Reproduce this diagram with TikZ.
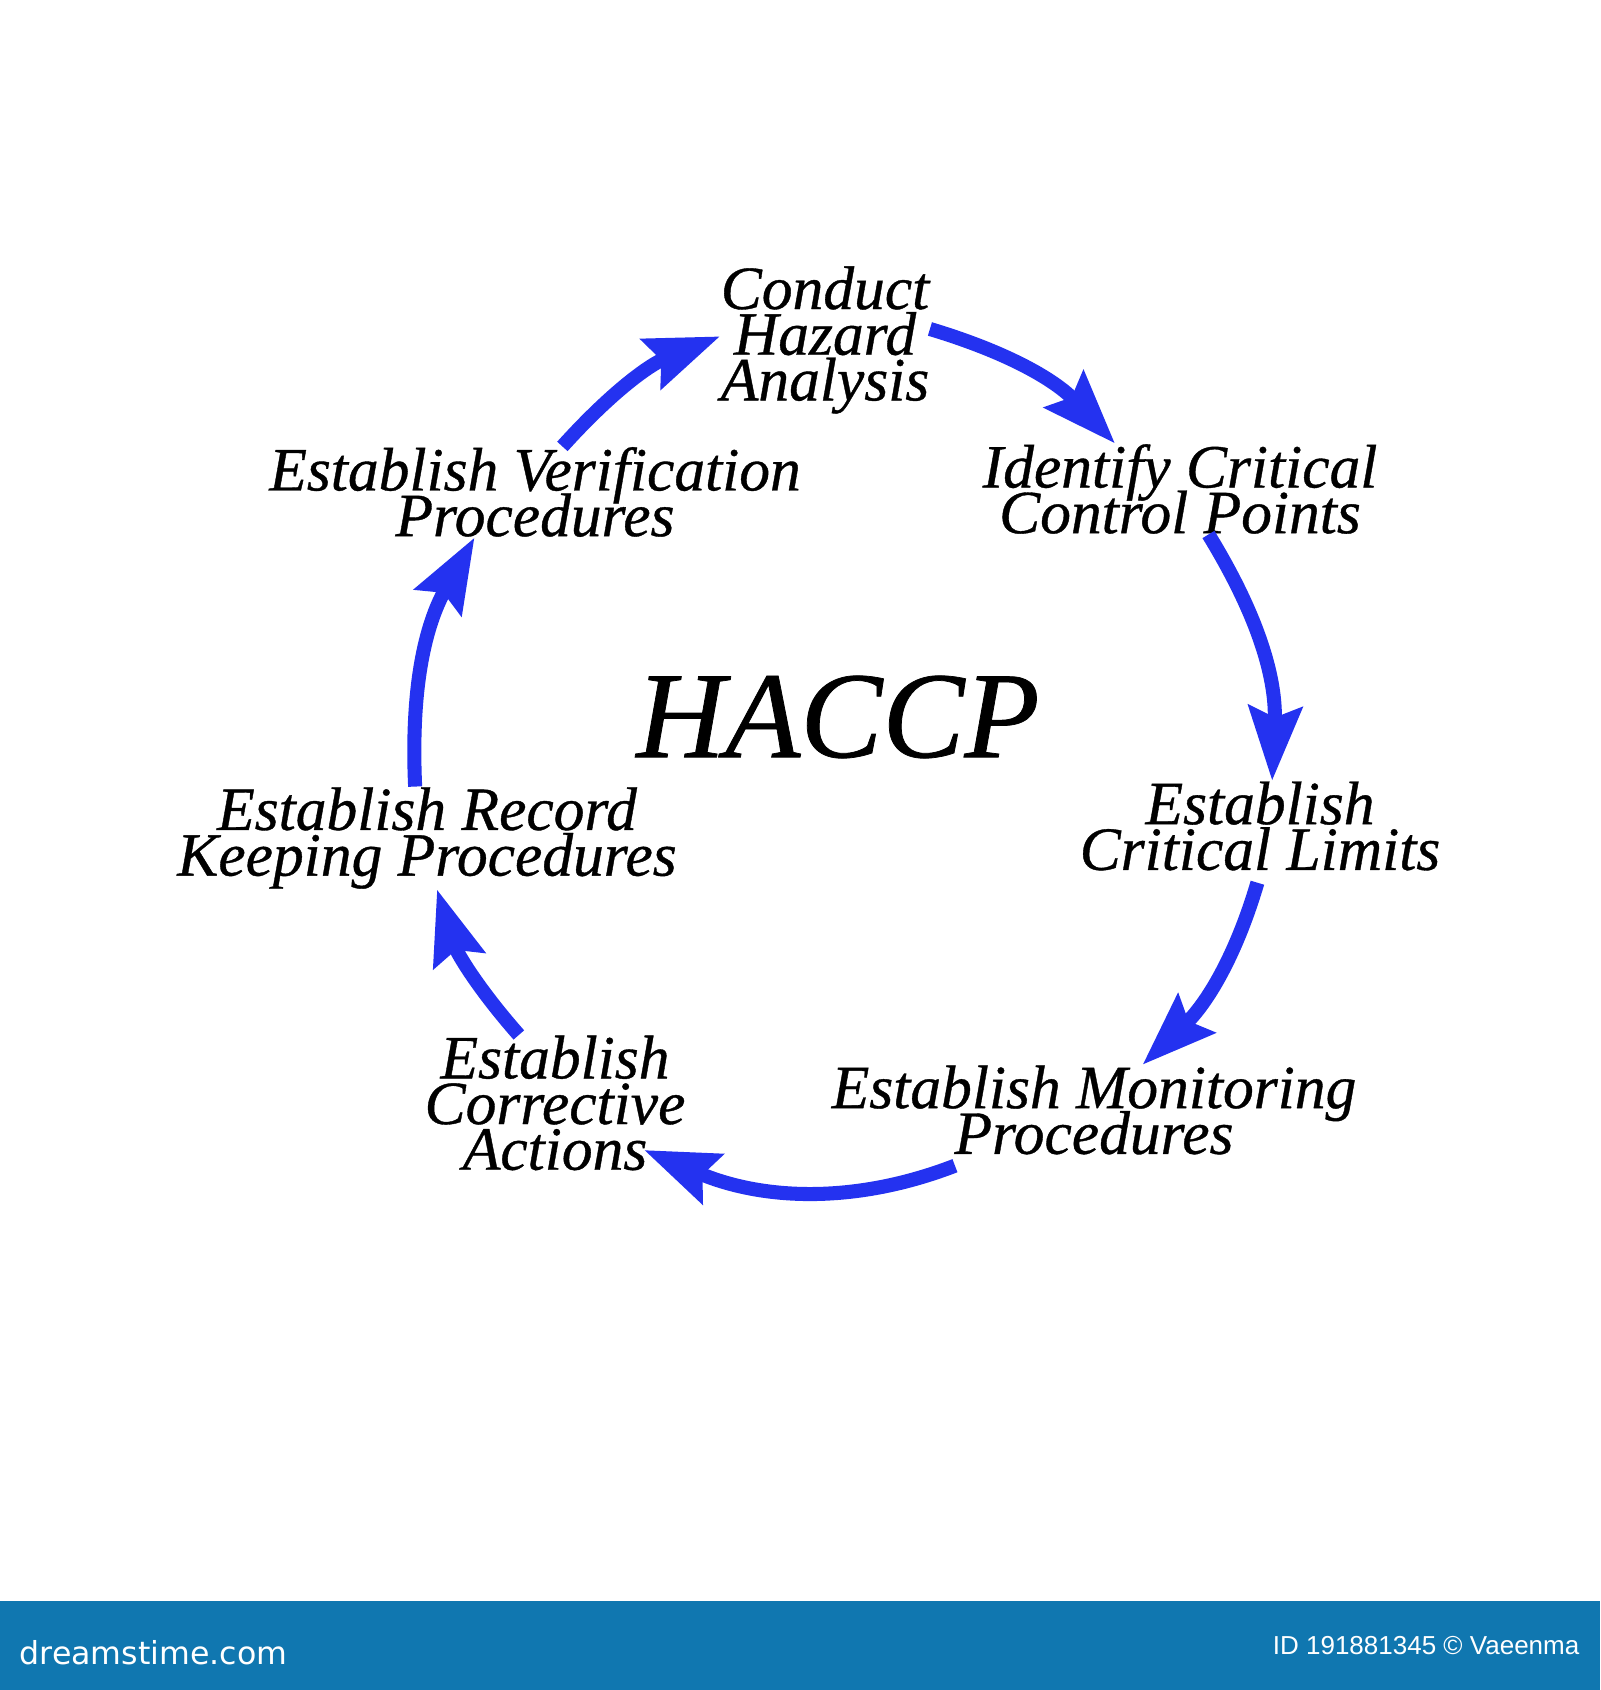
\documentclass[tikz,border=0pt]{standalone}
\usepackage{fontspec}
\setmainfont{Liberation Serif}
\newfontfamily\BarFont{Liberation Sans}
\newfontfamily\LogoFont{DejaVu Sans}
\usetikzlibrary{arrows.meta,calc}
\definecolor{ringblue}{RGB}{36,50,240}
\definecolor{barblue}{RGB}{16,119,176}
\NewDocumentCommand\StageFont{}%
{%
\itshape\addfontfeature{FakeBold=0.6}\fontsize{17.5}{13}\selectfont\lineskiplimit=-20pt%
}
\tikzset{
  stage/.style={font=\StageFont,align=center,inner sep=0pt},
  cycarrow/.style={draw=ringblue,line width=4pt,-{Stealth[length=21pt,width=15pt,inset=3pt]}},
}

\begin{document}
\begin{tikzpicture}
\path[fill=white] (0,0) rectangle (16,-16.9);
\useasboundingbox (0,0) rectangle (16,-16.9);
%\draw[help lines] (0,0) grid (16,-16.9);
\node[font=\itshape\addfontfeature{FakeBold=0.6}\fontsize{35}{40}\selectfont] (haccp) at (8.38,-7.17) {HACCP};
\node[stage] (conduct) at (8.25,-3.40) {Conduct\\Hazard\\Analysis};
\node[stage] (ccp) at (11.80,-4.89) {Identify Critical\\Control Points};
\node[stage] (limits) at (12.60,-8.26) {Establish\\Critical Limits};
\node[stage] (monitor) at (10.94,-11.10) {Establish Monitoring\\Procedures};
\node[stage] (correct) at (5.55,-11.03) {Establish\\Corrective\\Actions};
\node[stage] (record) at (4.27,-8.38) {Establish Record\\Keeping Procedures};
\node[stage] (verif) at (5.35,-4.92) {Establish Verification\\Procedures};
\draw[cycarrow] (conduct.6) to[bend left=15] (ccp.145);
\draw[cycarrow] (ccp.-58) to[bend left=17] (limits.75);
\draw[cycarrow,shorten <=1.2mm] (limits.-89) to[bend left=15] (monitor.43);
\draw[cycarrow,shorten <=2.9mm] (monitor.-158) to[bend left=22] ([xshift=-4.2mm,yshift=2.1mm]correct.south east);
\draw[cycarrow] (correct.118) to[bend left=12] (record.-79);
\draw[cycarrow] (record.103) to[bend left=16] (verif.-143);
\draw[cycarrow] (verif.59) to[bend left=13] (conduct.178);
%\fill[ringblue] (8.41,-7.55) circle (3pt);
\fill[barblue] (0,-16.01) rectangle (16,-16.9);
\node[anchor=base west,inner sep=0pt,text=white,font=\LogoFont\fontsize{9}{10}\selectfont] (stock) at (0.19,-16.64) {dreamstime.com};
\node[anchor=base east,inner sep=0pt,text=white,font=\BarFont\fontsize{7.4}{9}\selectfont] (imgid) at (15.80,-16.54) {ID 191881345 © Vaeenma};
\end{tikzpicture}
\end{document}
